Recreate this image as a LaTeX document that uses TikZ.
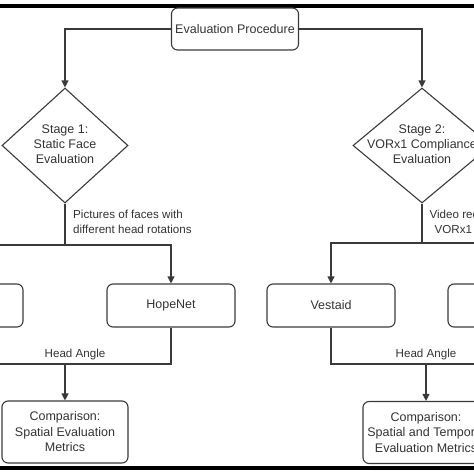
\documentclass[tikz,border=0pt]{standalone}
\usepackage{fontspec}
\setmainfont{Liberation Sans}
\usetikzlibrary{shapes.geometric,arrows.meta}
\definecolor{ln}{HTML}{3A3A3A}
\definecolor{tx}{HTML}{333333}
\begin{document}
\begin{tikzpicture}[x=1pt,y=-1pt,
 box/.style={draw=ln, line width=1.1pt, rounded corners=6pt, minimum width=128pt, minimum height=43pt, inner sep=0pt, text=tx, font=\fontsize{12.5}{15.5}\selectfont, align=center},
 dia/.style={draw=ln, line width=1.1pt, diamond, inner sep=0pt},
 txt/.style={text=tx, font=\fontsize{12.5}{15.2}\selectfont, align=center, inner sep=0pt},
 lbl/.style={text=tx, font=\fontsize{11.6}{15}\selectfont, inner sep=0pt},
 conn/.style={draw=ln, line width=1.1pt},
 arr/.style={conn, -{Triangle[length=7pt,width=7pt]}}]
\useasboundingbox (0,0) rectangle (474,474);
\clip (0,0) rectangle (474,474);
\fill[black] (0,4) rectangle (474,7.5);
\fill[black] (0,466) rectangle (474,469.5);

\node[box, minimum width=127pt, minimum height=42pt] (ep) at (235,29) {Evaluation Procedure};

\node[dia, minimum width=126pt, minimum height=115pt] (d1) at (65,145.5) {};
\node[txt] (d1t) at (65,144) {Stage 1:\\Static Face\\Evaluation};
\node[dia, minimum width=138pt, minimum height=115pt] (d2) at (422,145.5) {};
\node[txt] (d2t) at (422,144) {Stage 2:\\VORx1 Compliance\\Evaluation};

\draw[arr] (ep.west) -| (d1.north);
\draw[arr] (ep.east) -| (d2.north);

\node[box] (lb) at (-41,305.5) {};
\node[box] (hn) at (171,305.5) {HopeNet};
\node[box] (vs) at (331,305.5) {Vestaid};
\node[box] (rb) at (512,305.5) {};

\coordinate (j1) at (65,245);
\draw[conn] (d1.south) -- (j1);
\draw[arr] (j1) -| (hn.north);
\draw[arr] (j1) -| (lb.north);
\node[lbl, anchor=west, align=left] (l1) at (73,221.5) {Pictures of faces with\\different head rotations};

\coordinate (j2) at (422,243);
\draw[conn] (d2.south) -- (j2);
\draw[arr] (j2) -| (vs.north);
\draw[arr] (j2) -| (rb.north);
\node[lbl, align=center] (l2) at (479.5,221.5) {Video recordings of\\VORx1 exercises};

\node[box, minimum width=126pt, minimum height=62pt] (c1) at (65,432) {Comparison:\\Spatial Evaluation\\Metrics};
\node[box, minimum width=126pt, minimum height=62pt] (c2) at (426,432.5) {Comparison:\\Spatial and Temporal\\Evaluation Metrics};

\coordinate (j3) at (65,364);
\draw[conn] (hn.south) |- (lb.south |- j3) -- (lb.south);
\draw[arr] (j3) -- (c1.north);
\node[lbl] (h1) at (75,354) {Head Angle};

\coordinate (j4) at (426,364);
\draw[conn] (vs.south) |- (rb.south |- j4) -- (rb.south);
\draw[arr] (j4) -- (c2.north);
\node[lbl] (h2) at (426,354) {Head Angle};
\end{tikzpicture}
\end{document}
